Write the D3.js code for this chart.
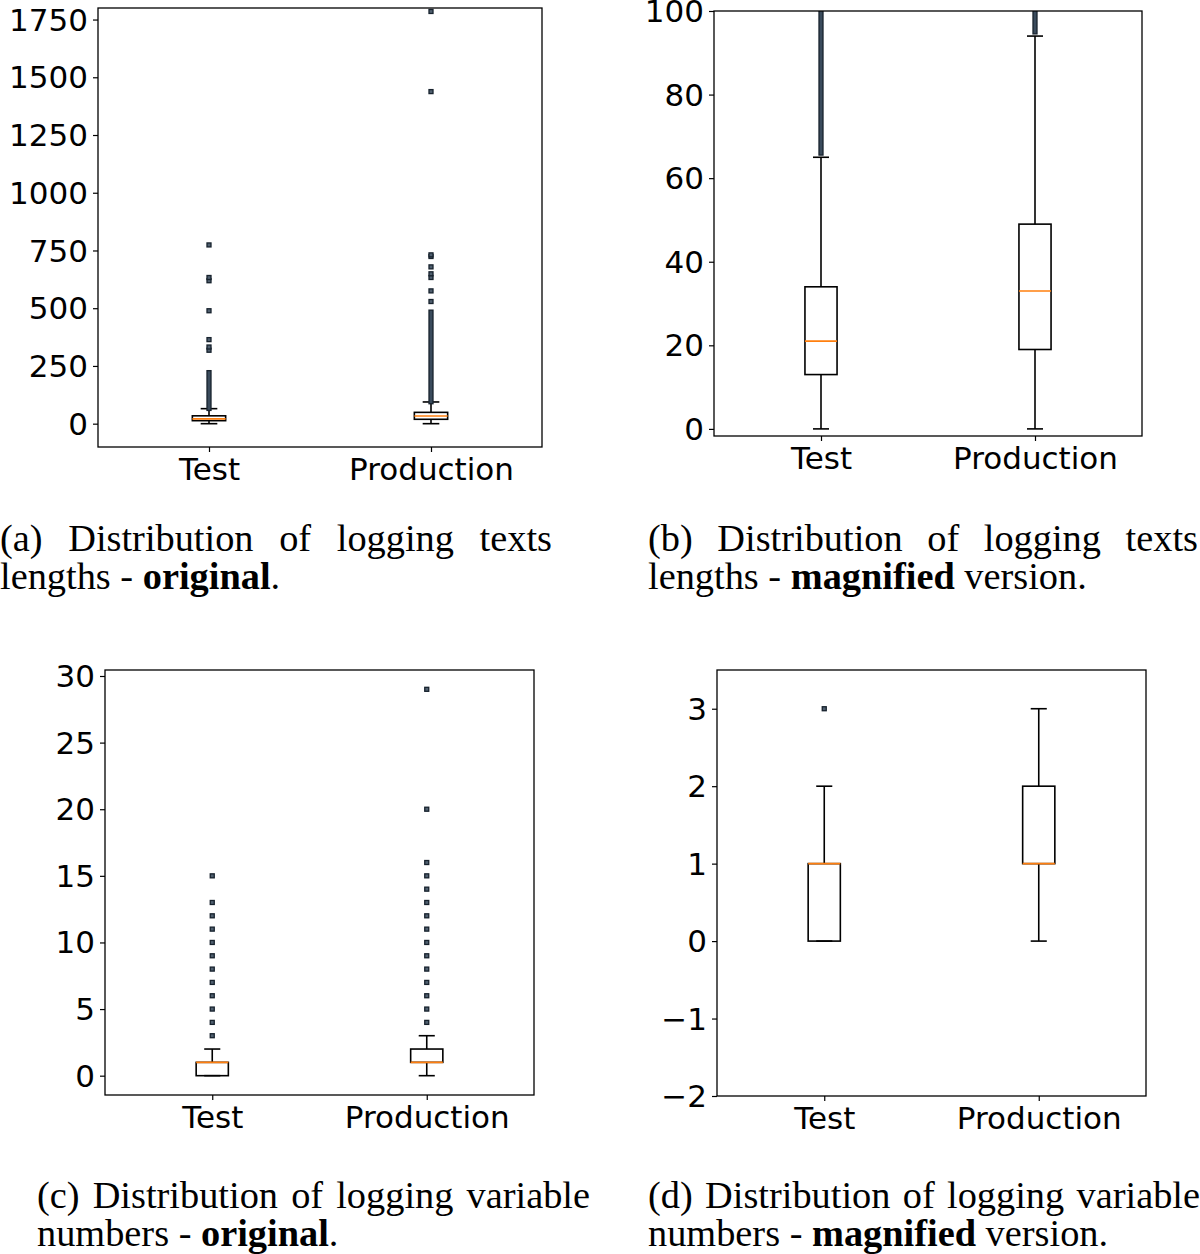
<!DOCTYPE html>
<html>
<head>
<meta charset="utf-8">
<script src="https://cdn.jsdelivr.net/npm/d3@7/dist/d3.min.js"></script>
<style>
  html, body { margin: 0; padding: 0; background: #fff; }
  svg { display: block; }
</style>
</head>
<body>
<svg id="chart" width="1200" height="1254"></svg>
<script>
// ---------------- DATA ----------------
const categories = ["Test", "Production"];

// Logging text lengths (panels a, b)
const lenLow    = [0, 0];
const lenQ1     = [13, 19];
const lenMedian = [21, 33];
const lenQ3     = [34, 49];
const lenHigh   = [65, 94];
// dense runs of outliers [from, to]
const lenTestFlierRun = [66, 221];
const lenProdFlierRun = [95, 483];
// isolated outliers
const lenTestFliers = [318, 332, 364, 489, 619, 633, 774];
const lenProdFliers = [529, 575, 633, 649, 679, 724, 731, 1438, 1785];

// Logging variable numbers (panels c, d)
const varLow    = [0, 0];
const varQ1     = [0, 1];
const varMedian = [1, 1];
const varQ3     = [1, 2];
const varHigh   = [2, 3];
const varTestFliers = [3, 4, 5, 6, 7, 8, 9, 10, 11, 12, 13, 15];
const varProdFliers = [4, 5, 6, 7, 8, 9, 10, 11, 12, 13, 14, 15, 16, 20, 29];

// Tick labels
const ticksA = [0, 250, 500, 750, 1000, 1250, 1500, 1750];
const ticksB = [0, 20, 40, 60, 80, 100];
const ticksC = [0, 5, 10, 15, 20, 25, 30];
const ticksD = [-2, -1, 0, 1, 2, 3];

// Captions
const captionA = { line1: ["(a)", "Distribution", "of", "logging", "texts"], pre: "lengths - ", bold: "original", post: "." };
const captionB = { line1: ["(b)", "Distribution", "of", "logging", "texts"], pre: "lengths - ", bold: "magnified", post: " version." };
const captionC = { line1: ["(c)", "Distribution", "of", "logging", "variable"], pre: "numbers - ", bold: "original", post: "." };
const captionD = { line1: ["(d)", "Distribution", "of", "logging", "variable"], pre: "numbers - ", bold: "magnified", post: " version." };

// ---------------- BUILD ----------------
const lenStats = categories.map((c, i) => ({
  cat: c, low: lenLow[i], q1: lenQ1[i], med: lenMedian[i], q3: lenQ3[i], high: lenHigh[i],
  run: i === 0 ? lenTestFlierRun : lenProdFlierRun,
  fliers: i === 0 ? lenTestFliers : lenProdFliers
}));
const varStats = categories.map((c, i) => ({
  cat: c, low: varLow[i], q1: varQ1[i], med: varMedian[i], q3: varQ3[i], high: varHigh[i],
  run: null,
  fliers: i === 0 ? varTestFliers : varProdFliers
}));

const panels = [
  { id: "a", frame: [98, 8, 542, 447],    domain: [-101, 1800], ticks: ticksA, stats: lenStats,
    cap: captionA, capX: [0, 552],   capY: 551 },
  { id: "b", frame: [714, 11, 1142, 436], domain: [-1.7, 100],  ticks: ticksB, stats: lenStats,
    cap: captionB, capX: [648, 1198], capY: 551 },
  { id: "c", frame: [105, 670, 534, 1095], domain: [-1.45, 30.45], ticks: ticksC, stats: varStats,
    cap: captionC, capX: [37, 590],  capY: 1208 },
  { id: "d", frame: [717, 670, 1146, 1096], domain: [-2, 3.5],   ticks: ticksD, stats: varStats,
    cap: captionD, capX: [648, 1200], capY: 1208 }
];

const svg = d3.select("#chart");
const defs = svg.append("defs");
const tickFont = "'DejaVu Sans', sans-serif";
const tickSize = 31;
const lw = 1.6;
const flierStroke = "#17222d";
const flierFill = "#4f5f6f";
const ms = 4; // marker size

panels.forEach(p => {
  const [x0, y0, x1, y1] = p.frame;
  const y = d3.scaleLinear().domain(p.domain).range([y1, y0]);
  const x = d3.scalePoint().domain(categories).range([x0, x1]).padding(0.5);
  const step = (x1 - x0) / 2;           // one category unit
  const boxW = 0.15 * step;
  const capW = boxW / 2;

  const g = svg.append("g").attr("class", "panel-" + p.id);

  defs.append("clipPath").attr("id", "clip-" + p.id)
    .append("rect").attr("x", x0).attr("y", y0).attr("width", x1 - x0).attr("height", y1 - y0);

  const plot = g.append("g").attr("clip-path", `url(#clip-${p.id})`);

  p.stats.forEach(s => {
    const cx = x(s.cat);
    // whiskers
    plot.append("line").attr("x1", cx).attr("x2", cx).attr("y1", y(s.q3)).attr("y2", y(s.high))
      .attr("stroke", "#000").attr("stroke-width", lw);
    plot.append("line").attr("x1", cx).attr("x2", cx).attr("y1", y(s.q1)).attr("y2", y(s.low))
      .attr("stroke", "#000").attr("stroke-width", lw);
    // caps
    [s.high, s.low].forEach(v => {
      plot.append("line").attr("x1", cx - capW / 2).attr("x2", cx + capW / 2)
        .attr("y1", y(v)).attr("y2", y(v)).attr("stroke", "#000").attr("stroke-width", lw);
    });
    // box
    plot.append("rect").attr("x", cx - boxW / 2).attr("width", boxW)
      .attr("y", y(s.q3)).attr("height", Math.max(0, y(s.q1) - y(s.q3)))
      .attr("fill", "none").attr("stroke", "#000").attr("stroke-width", lw);
    // median
    plot.append("line").attr("x1", cx - boxW / 2).attr("x2", cx + boxW / 2)
      .attr("y1", y(s.med)).attr("y2", y(s.med))
      .attr("stroke", "#ff7f0e").attr("stroke-width", lw);
    // dense flier run
    if (s.run) {
      const top = y(s.run[1]) - ms / 2, bot = y(s.run[0]) + ms / 2;
      plot.append("rect").attr("x", cx - ms / 2).attr("width", ms)
        .attr("y", top).attr("height", bot - top)
        .attr("fill", "#3a4b5c").attr("stroke", flierStroke).attr("stroke-width", 1.3);
    }
    // individual fliers
    plot.selectAll(null).data(s.fliers).enter().append("rect")
      .attr("x", cx - ms / 2).attr("y", d => y(d) - ms / 2)
      .attr("width", ms).attr("height", ms)
      .attr("fill", flierFill).attr("stroke", flierStroke).attr("stroke-width", 1.3);
  });

  // frame
  g.append("rect").attr("x", x0).attr("y", y0).attr("width", x1 - x0).attr("height", y1 - y0)
    .attr("fill", "none").attr("stroke", "#000").attr("stroke-width", 1.3);

  // y axis
  const yAxis = d3.axisLeft(y).tickValues(p.ticks).tickSize(5).tickPadding(5)
    .tickFormat(d => d < 0 ? "\u2212" + Math.abs(d) : String(d));
  const ya = g.append("g").attr("transform", `translate(${x0},0)`).call(yAxis);
  ya.select(".domain").remove();
  ya.selectAll(".tick line").attr("stroke", "#000").attr("stroke-width", 1.2);
  ya.selectAll(".tick text").attr("font-family", tickFont).attr("font-size", tickSize)
    .attr("fill", "#000").attr("dy", "0.34em");

  // x axis
  const xAxis = d3.axisBottom(x).tickSize(5).tickPadding(6);
  const xa = g.append("g").attr("transform", `translate(0,${y1})`).call(xAxis);
  xa.select(".domain").remove();
  xa.selectAll(".tick line").attr("stroke", "#000").attr("stroke-width", 1.2);
  xa.selectAll(".tick text").attr("font-family", tickFont).attr("font-size", tickSize)
    .attr("fill", "#000");
});

// ---------------- CAPTIONS ----------------
const capFont = "'Liberation Serif', 'Times New Roman', serif";
const lineGap = 38;
// fit font size so that the second lines match their widths in the reference
const targetLine2 = { a: 282, b: 435, c: 303, d: 459 };
const probe = svg.append("text").attr("font-family", capFont).attr("font-size", 30);
let ratios = [];
panels.forEach(p => {
  probe.selectAll("*").remove();
  probe.append("tspan").text(p.cap.pre);
  probe.append("tspan").attr("font-weight", "bold").text(p.cap.bold);
  probe.append("tspan").text(p.cap.post);
  ratios.push(targetLine2[p.id] / probe.node().getComputedTextLength());
});
probe.remove();
const capSize = 30 * d3.mean(ratios);

panels.forEach(p => {
  const [cx0, cx1] = p.capX;
  const g = svg.append("g").attr("class", "caption-" + p.id)
    .attr("font-family", capFont).attr("font-size", capSize).attr("fill", "#000");
  // justified first line
  const words = p.cap.line1.map(w => {
    const t = g.append("text").attr("y", p.capY).text(w);
    return { t, w: t.node().getComputedTextLength() };
  });
  const total = d3.sum(words, d => d.w);
  const gap = (cx1 - cx0 - total) / (words.length - 1);
  let cx = cx0;
  words.forEach(d => { d.t.attr("x", cx); cx += d.w + gap; });
  // second line
  const t2 = g.append("text").attr("x", cx0).attr("y", p.capY + lineGap);
  t2.append("tspan").text(p.cap.pre);
  t2.append("tspan").attr("font-weight", "bold").text(p.cap.bold);
  t2.append("tspan").text(p.cap.post);
});
</script>
</body>
</html>
